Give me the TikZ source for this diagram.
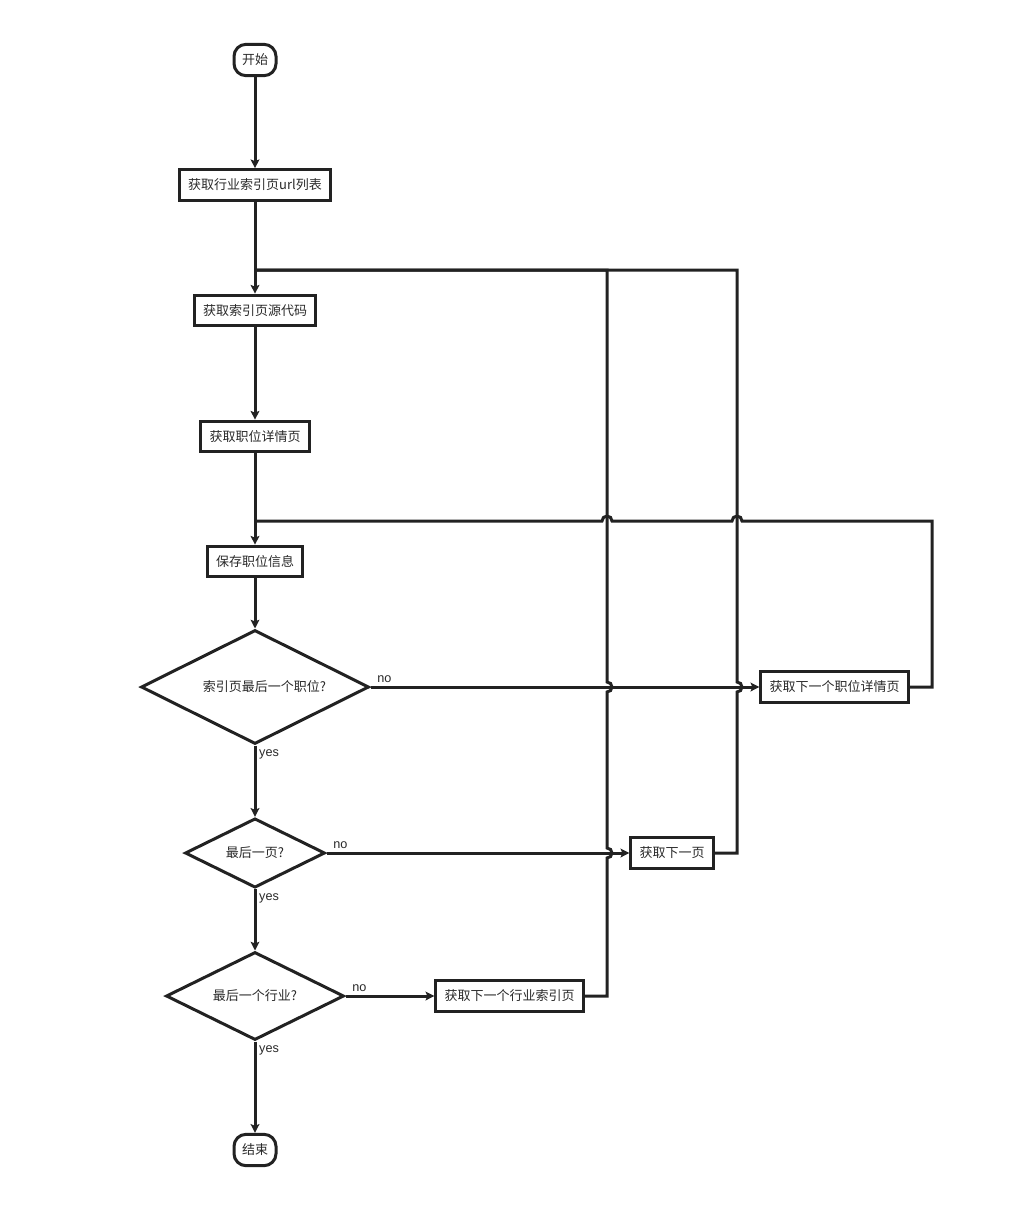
\documentclass[tikz,border=0pt]{standalone}
\usepackage{fontspec}
\setmainfont{Liberation Sans}
\newfontfamily\cjk{Noto Sans CJK SC}
\usetikzlibrary{shapes.geometric,arrows.meta}
\definecolor{ln}{HTML}{222222}
\definecolor{tx}{HTML}{2a2a2a}
\tikzset{
  base/.style={font=\cjk\fontsize{9.75pt}{12pt}\selectfont, text=tx},
  stepbox/.style={base, draw=ln, line width=2.25pt, fill=white, rectangle, inner xsep=6.5pt, inner ysep=0pt, minimum height=23pt},
  term/.style={base, draw=ln, line width=2.25pt, fill=white, rectangle, rounded corners=9pt, minimum width=31.5pt, minimum height=23.5pt, inner sep=0pt},
  dec/.style={base, draw=ln, line width=2.25pt, fill=white, diamond, aspect=2, inner sep=0pt},
  conn/.style={draw=ln, line width=2.25pt},
  arr/.style={conn, -{Stealth[length=6.5pt,width=6.5pt,inset=1.2pt]}},
  lbl/.style={font=\fontsize{9.5pt}{11pt}\selectfont, text=tx, inner sep=2pt},
}
\begin{document}
\begin{tikzpicture}[x=0.75pt,y=-0.75pt]
\useasboundingbox[fill=white] (0,0) rectangle (1011,1221);
% nodes
\node[term] (start) at (255,60) {开始};
\node[stepbox] (b1) at (255,185) {获取行业索引页url列表};
\node[stepbox] (b2) at (255,310.5) {获取索引页源代码};
\node[stepbox] (b3) at (255,436.5) {获取职位详情页};
\node[stepbox] (b4) at (255,561.5) {保存职位信息};
\node[dec, minimum width=171pt, minimum height=85.5pt] (d1) at (255,687) {\hspace*{14pt}索引页最后一个职位?};
\node[dec, minimum width=105pt, minimum height=52pt] (d2) at (255,853) {最后一页?};
\node[dec, minimum width=133.5pt, minimum height=66pt] (d3) at (255,996) {最后一个行业?};
\node[term] (end) at (255,1150) {结束};
\node[stepbox] (nj) at (834.5,687) {获取下一个职位详情页};
\node[stepbox] (np) at (672,853) {获取下一页};
\node[stepbox] (ni) at (509.5,996) {获取下一个行业索引页};
% helper coordinates
\coordinate (j1) at (255,270);
\coordinate (j2) at (255,521);
\coordinate (xa) at (607,270);
\coordinate (xb) at (737,270);
\coordinate (xr) at (932,521);
\coordinate (k1) at (607,853);
\coordinate (k2) at (607,687);
\coordinate (k3) at (737,687);
\coordinate (k4) at (737,521);
\coordinate (k5) at (607,521);
% main flow
\draw[arr] (start) -- (b1);
\draw[arr] (b1) -- (b2);
\draw[arr] (b2) -- (b3);
\draw[arr] (b3) -- (b4);
\draw[arr] (b4) -- (d1);
\draw[arr] (d1) -- (d2) node[pos=0, anchor=north west, lbl] {yes};
\draw[arr] (d2) -- (d3) node[pos=0, anchor=north west, lbl] {yes};
\draw[arr] (d3) -- (end) node[pos=0, anchor=north west, lbl] {yes};
\draw[arr] (d1) -- (nj) node[pos=0, anchor=south west, lbl, xshift=2pt] {no};
\draw[arr] (d2) -- (np) node[pos=0, anchor=south west, lbl, xshift=2pt] {no};
\draw[arr] (d3) -- (ni) node[pos=0, anchor=south west, lbl, xshift=2pt] {no};
% loops
\draw[conn] (ni.east) -| ([yshift=-3.75pt]k1) arc[start angle=-90,end angle=90,radius=3.75pt]
  -- ([yshift=-3.75pt]k2) arc[start angle=-90,end angle=90,radius=3.75pt]
  -- (xa) -- (j1);
\draw[conn] (np.east) -| ([yshift=-3.75pt]k3) arc[start angle=-90,end angle=90,radius=3.75pt]
  -- (xb) -- (j1);
\draw[conn] (nj.east) -| (xr) -- ([xshift=3.75pt]k4) arc[start angle=0,end angle=180,radius=3.75pt]
  -- ([xshift=3.75pt]k5) arc[start angle=0,end angle=180,radius=3.75pt]
  -- (j2);
\end{tikzpicture}
\end{document}
